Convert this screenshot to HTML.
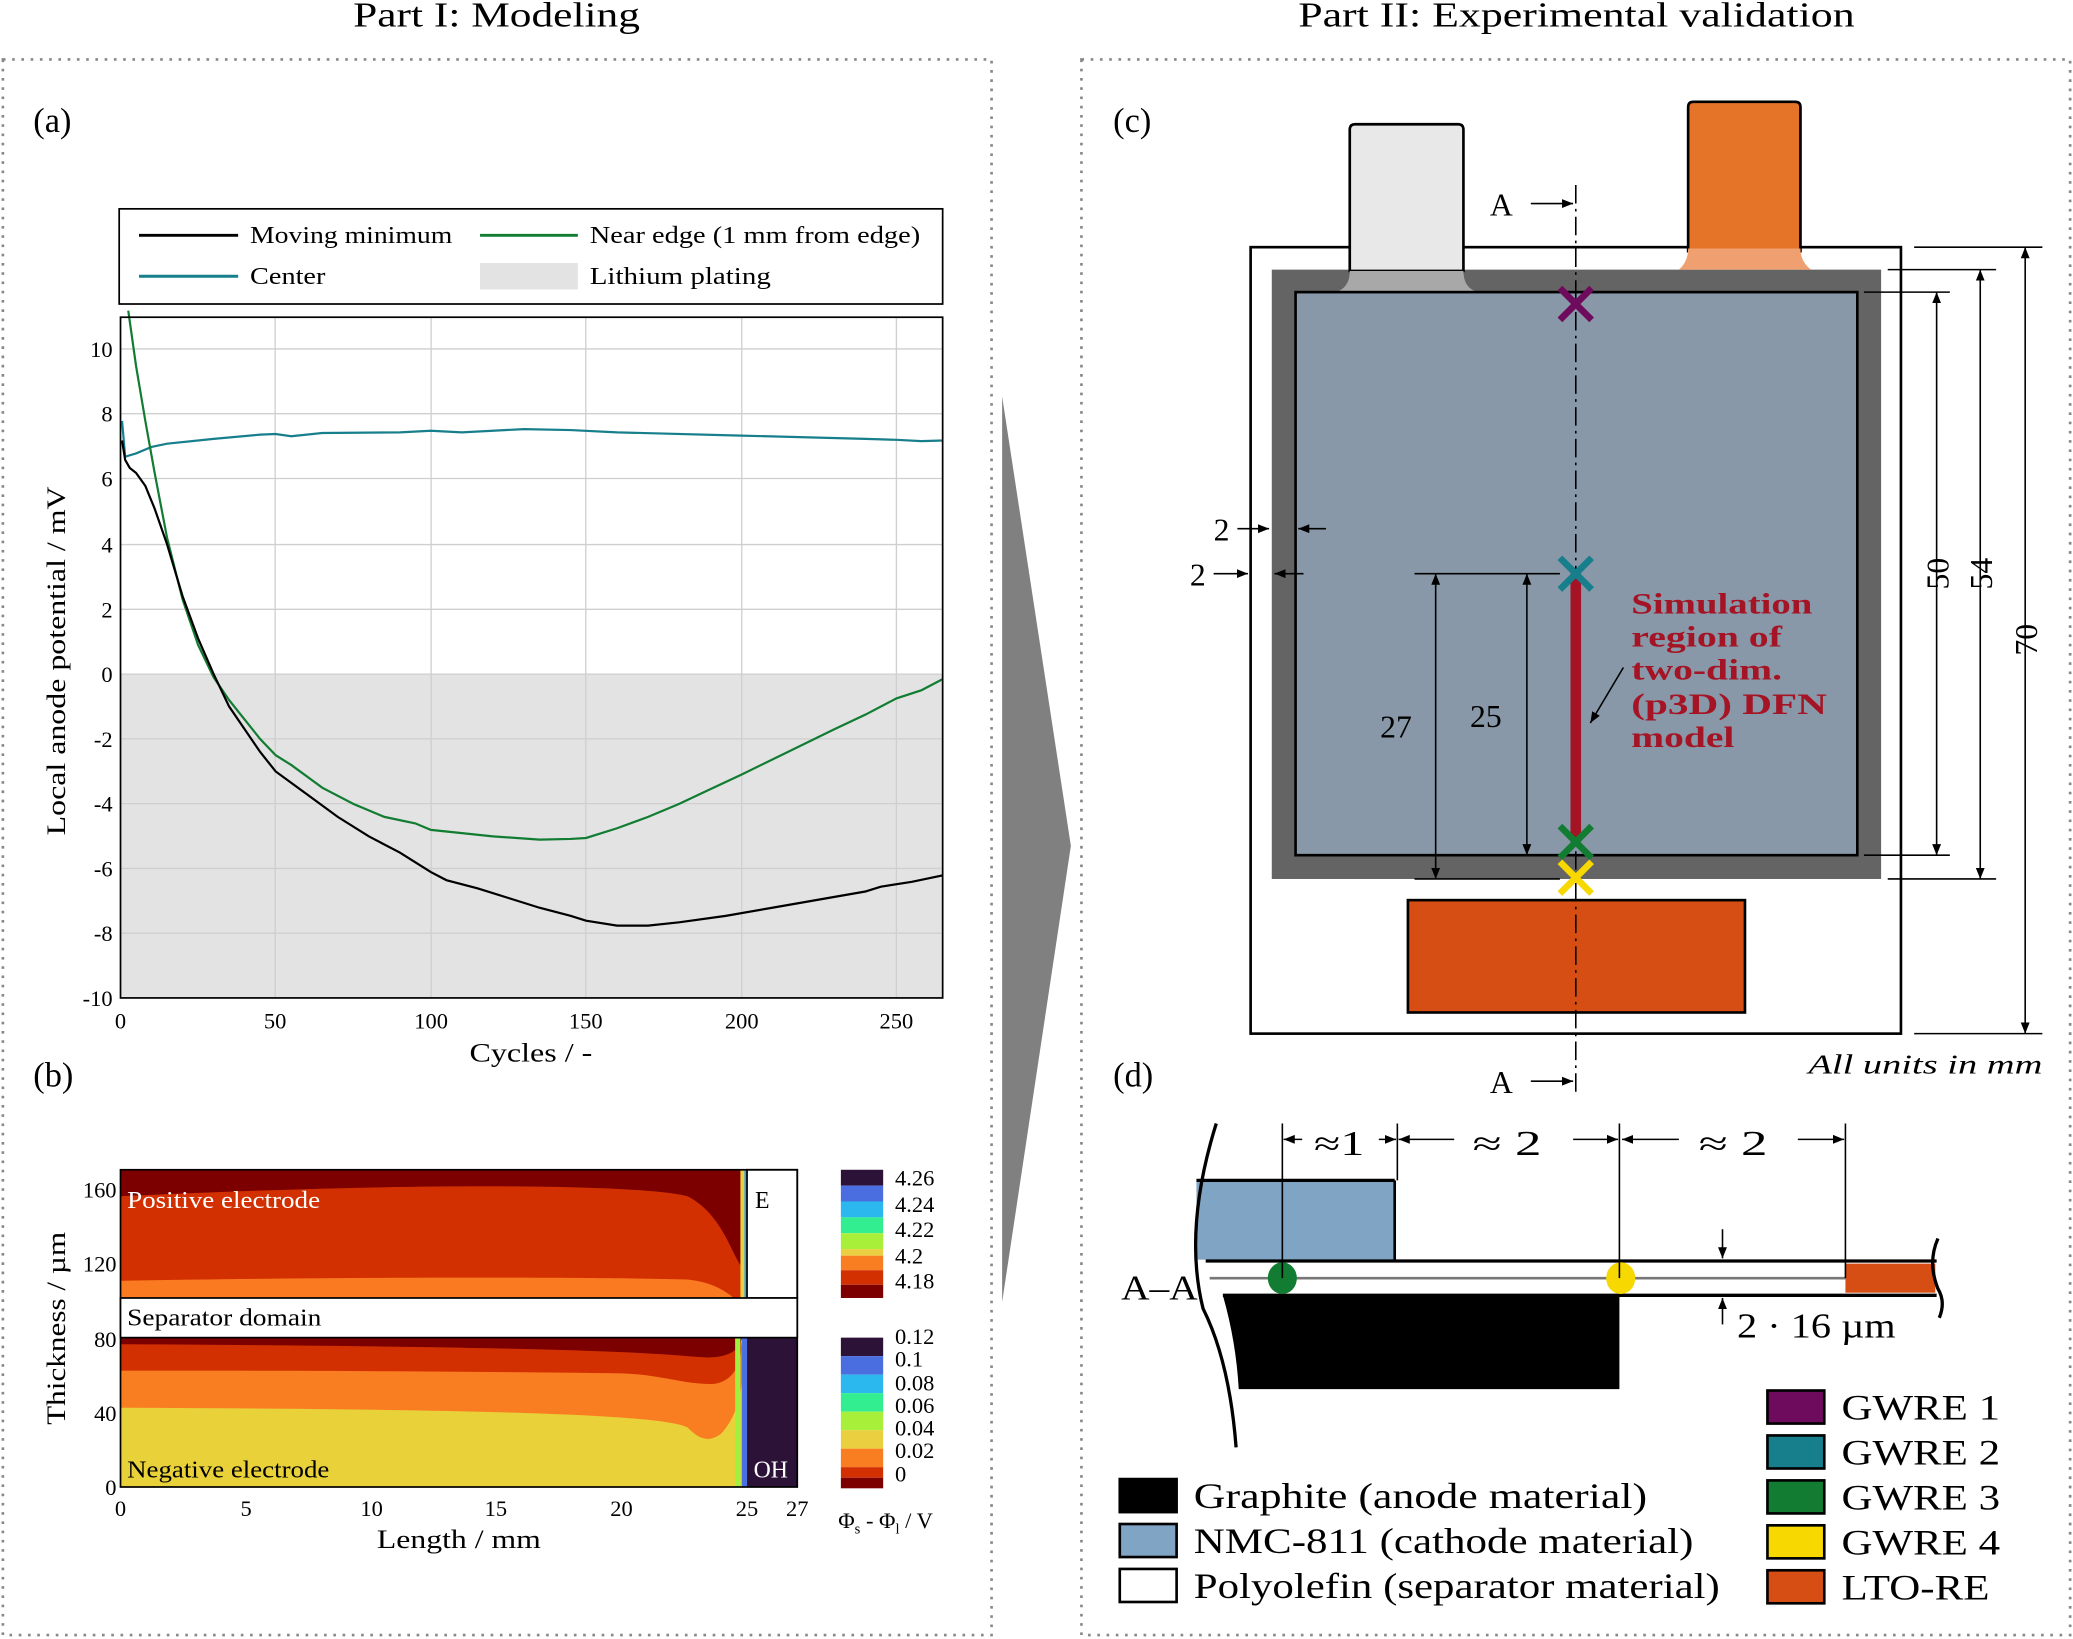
<!DOCTYPE html>
<html><head><meta charset="utf-8"><style>
html,body{margin:0;padding:0;background:#fff}
svg{display:block}
text{font-family:"Liberation Serif",serif;fill:#000}
</style></head><body>
<svg width="2073" height="1639" viewBox="0 0 1568 1240" xmlns="http://www.w3.org/2000/svg">
<defs>
<marker id="ar" viewBox="0 0 10 10" refX="10" refY="5" markerWidth="7" markerHeight="7" orient="auto-start-reverse"><path d="M0,1 L10,5 L0,9 z" fill="#000"/></marker>
</defs>
<text x="267" y="20" font-size="26" textLength="217" lengthAdjust="spacingAndGlyphs">Part I: Modeling</text>
<text x="982" y="20" font-size="26" textLength="421" lengthAdjust="spacingAndGlyphs">Part II: Experimental validation</text>
<rect x="2" y="45" width="748" height="1192" fill="none" stroke="#888" stroke-width="2" stroke-dasharray="2,5"/>
<rect x="818" y="45" width="748" height="1192" fill="none" stroke="#888" stroke-width="2" stroke-dasharray="2,5"/>
<polygon points="758,300 810,640 758,985" fill="#808080"/>

<text x="25" y="100" font-size="26">(a)</text>
<text x="25" y="822" font-size="26">(b)</text>
<text x="842" y="100" font-size="26">(c)</text>
<text x="842" y="822" font-size="26">(d)</text>

<!-- panel a -->
<rect x="91" y="510" width="622" height="245" fill="#e3e3e3"/>
<g stroke="#cfcfcf" stroke-width="1">
<line x1="208" y1="240" x2="208" y2="755"/><line x1="326" y1="240" x2="326" y2="755"/><line x1="443" y1="240" x2="443" y2="755"/><line x1="561" y1="240" x2="561" y2="755"/><line x1="678" y1="240" x2="678" y2="755"/>
<line x1="91" y1="264" x2="713" y2="264"/><line x1="91" y1="313" x2="713" y2="313"/><line x1="91" y1="362" x2="713" y2="362"/><line x1="91" y1="412" x2="713" y2="412"/><line x1="91" y1="461" x2="713" y2="461"/><line x1="91" y1="510" x2="713" y2="510"/><line x1="91" y1="559" x2="713" y2="559"/><line x1="91" y1="608" x2="713" y2="608"/><line x1="91" y1="657" x2="713" y2="657"/><line x1="91" y1="706" x2="713" y2="706"/>
</g>
<g transform="translate(91,510) scale(2.348,-24.55)" fill="none">
<polyline vector-effect="non-scaling-stroke" stroke="#177e8c" stroke-width="2.2" points="0.5,7.8 1.5,6.7 5,6.8 10,7 15,7.1 30,7.25 45,7.38 50,7.4 55,7.33 65,7.43 90,7.45 100,7.5 110,7.45 130,7.55 145,7.52 160,7.45 200,7.35 240,7.25 250,7.22 258,7.18 265,7.2"/>
<polyline vector-effect="non-scaling-stroke" stroke="#117c32" stroke-width="2.2" points="2.5,11.2 5,9.5 8,7.8 11,6.2 15,4.2 20,2.3 25,0.9 30,-0.1 35,-0.8 40,-1.4 45,-2 50,-2.5 55,-2.8 65,-3.5 75,-4 85,-4.4 95,-4.6 100,-4.8 110,-4.9 120,-5 135,-5.1 145,-5.08 150,-5.05 160,-4.75 170,-4.4 180,-4 190,-3.55 200,-3.1 215,-2.4 230,-1.7 240,-1.25 250,-0.75 258,-0.5 265,-0.15"/>
<polyline vector-effect="non-scaling-stroke" stroke="#000" stroke-width="2.2" points="0.5,7.2 1.5,6.6 3,6.35 5,6.2 8,5.8 11,5.1 15,4 20,2.4 25,1.1 30,0 35,-1 40,-1.7 45,-2.4 50,-3 60,-3.7 70,-4.4 80,-5 90,-5.5 95,-5.8 100,-6.1 105,-6.35 115,-6.6 125,-6.9 135,-7.2 145,-7.45 150,-7.6 160,-7.75 170,-7.75 180,-7.65 195,-7.45 210,-7.2 225,-6.95 240,-6.7 245,-6.55 255,-6.4 265,-6.2"/>
</g>
<rect x="91" y="240" width="622" height="515" fill="none" stroke="#000" stroke-width="1.3"/>
<g font-size="17" text-anchor="end">
<text x="85" y="270">10</text><text x="85" y="319">8</text><text x="85" y="368">6</text><text x="85" y="418">4</text><text x="85" y="467">2</text><text x="85" y="516">0</text><text x="85" y="565">-2</text><text x="85" y="614">-4</text><text x="85" y="663">-6</text><text x="85" y="712">-8</text><text x="85" y="761">-10</text>
</g>
<g font-size="17" text-anchor="middle">
<text x="91" y="778">0</text><text x="208" y="778">50</text><text x="326" y="778">100</text><text x="443" y="778">150</text><text x="561" y="778">200</text><text x="678" y="778">250</text>
</g>
<text x="355" y="803" font-size="20" textLength="93" lengthAdjust="spacingAndGlyphs">Cycles / -</text>
<text transform="translate(49,632) rotate(-90)" font-size="20" textLength="264" lengthAdjust="spacingAndGlyphs">Local anode potential / mV</text>
<rect x="90" y="158" width="623" height="72" fill="#fff" stroke="#000" stroke-width="1.3"/>
<line x1="105" y1="178" x2="180" y2="178" stroke="#000" stroke-width="2.2"/><text x="189" y="184" font-size="18" textLength="153" lengthAdjust="spacingAndGlyphs">Moving minimum</text>
<line x1="105" y1="209" x2="180" y2="209" stroke="#177e8c" stroke-width="2.2"/><text x="189" y="215" font-size="18" textLength="57" lengthAdjust="spacingAndGlyphs">Center</text>
<line x1="363" y1="178" x2="437" y2="178" stroke="#117c32" stroke-width="2.2"/><text x="446" y="184" font-size="18" textLength="250" lengthAdjust="spacingAndGlyphs">Near edge (1 mm from edge)</text>
<rect x="363" y="199" width="74" height="20" fill="#e3e3e3"/><text x="446" y="215" font-size="18" textLength="137" lengthAdjust="spacingAndGlyphs">Lithium plating</text>

<!-- panel b -->
<rect x="91" y="885" width="474" height="97" fill="#d23000"/>
<path d="M91,885 L560,885 L560,957 C552,945 545,918 520,905 C480,895 300,895 91,905 Z" fill="#7c0000"/>
<path d="M91,969 C250,966 450,966 520,968 C540,970 550,978 555,982 L91,982 Z" fill="#f97a20"/>
<rect x="560" y="885" width="5" height="97" fill="#e9d040"/>
<rect x="563" y="885" width="2" height="97" fill="#3aa0e0"/>
<rect x="565" y="885" width="38" height="97" fill="#fff" stroke="#000" stroke-width="1.3"/>
<rect x="91" y="1012" width="474" height="113" fill="#e9d13a"/>
<path d="M91,1012 L560,1012 C565,1040 560,1070 545,1085 C535,1092 528,1088 520,1080 C500,1068 300,1066 91,1065 Z" fill="#f97e22"/>
<path d="M91,1012 L560,1012 C563,1030 555,1045 540,1047 C520,1048 500,1040 470,1039 C300,1037 200,1037 91,1037 Z" fill="#d23000"/>
<path d="M91,1012 L561,1012 C560,1022 550,1027 535,1027 C500,1025 480,1019 91,1017 Z" fill="#7c0000"/>
<rect x="556" y="1012" width="4" height="113" fill="#a0f040"/>
<rect x="561" y="1012" width="4" height="113" fill="#4a70e0"/>
<rect x="565" y="1012" width="38" height="113" fill="#2d1238"/>
<rect x="91" y="885" width="512" height="240" fill="none" stroke="#000" stroke-width="1.3"/>
<rect x="91" y="982" width="512" height="30" fill="#fff" stroke="#000" stroke-width="1.3"/>
<text x="96" y="914" font-size="18" style="fill:#fff" textLength="146" lengthAdjust="spacingAndGlyphs">Positive electrode</text>
<text x="96" y="1003" font-size="18" textLength="147" lengthAdjust="spacingAndGlyphs">Separator domain</text>
<text x="96" y="1118" font-size="18" textLength="153" lengthAdjust="spacingAndGlyphs">Negative electrode</text>
<text x="571" y="914" font-size="18">E</text>
<text x="570" y="1118" font-size="18" style="fill:#fff">OH</text>
<g font-size="17" text-anchor="end">
<text x="88" y="906">160</text><text x="88" y="962">120</text><text x="88" y="1019">80</text><text x="88" y="1075">40</text><text x="88" y="1131">0</text>
</g>
<g font-size="17" text-anchor="middle">
<text x="91" y="1147">0</text><text x="186" y="1147">5</text><text x="281" y="1147">10</text><text x="375" y="1147">15</text><text x="470" y="1147">20</text><text x="565" y="1147">25</text><text x="603" y="1147">27</text>
</g>
<text x="285" y="1171" font-size="20" textLength="124" lengthAdjust="spacingAndGlyphs">Length / mm</text>
<text transform="translate(49,1078) rotate(-90)" font-size="20" textLength="146" lengthAdjust="spacingAndGlyphs">Thickness / µm</text>
<rect x="636" y="885" width="32" height="12" fill="#2d1238"/><rect x="636" y="897" width="32" height="12" fill="#4a6de0"/><rect x="636" y="909" width="32" height="12" fill="#2bb8ee"/><rect x="636" y="921" width="32" height="12" fill="#33ee90"/><rect x="636" y="933" width="32" height="12" fill="#a8ef3a"/><rect x="636" y="945" width="32" height="5" fill="#ead040"/>
<rect x="636" y="950" width="32" height="11" fill="#f97e22"/><rect x="636" y="961" width="32" height="11" fill="#d23000"/><rect x="636" y="972" width="32" height="10" fill="#7c0000"/>
<rect x="636" y="1012" width="32" height="14" fill="#2d1238"/><rect x="636" y="1026" width="32" height="14" fill="#4a6de0"/><rect x="636" y="1040" width="32" height="14" fill="#2bb8ee"/><rect x="636" y="1054" width="32" height="14" fill="#33ee90"/><rect x="636" y="1068" width="32" height="14" fill="#a8ef3a"/><rect x="636" y="1082" width="32" height="14" fill="#ead040"/><rect x="636" y="1096" width="32" height="14" fill="#f97e22"/><rect x="636" y="1110" width="32" height="8" fill="#d23000"/><rect x="636" y="1118" width="32" height="8" fill="#7c0000"/>
<g font-size="17">
<text x="677" y="897">4.26</text><text x="677" y="917">4.24</text><text x="677" y="936">4.22</text><text x="677" y="956">4.2</text><text x="677" y="975">4.18</text>
<text x="677" y="1017">0.12</text><text x="677" y="1034">0.1</text><text x="677" y="1052">0.08</text><text x="677" y="1069">0.06</text><text x="677" y="1086">0.04</text><text x="677" y="1103">0.02</text><text x="677" y="1121">0</text>
</g>
<text x="634" y="1156" font-size="17">Φ<tspan font-size="11" dy="4">s</tspan><tspan dy="-4"> - Φ</tspan><tspan font-size="11" dy="4">l</tspan><tspan dy="-4"> / V</tspan></text>

<!-- panel c -->
<rect x="946" y="187" width="492" height="595" fill="#fff" stroke="#000" stroke-width="2"/>
<rect x="962" y="204" width="461" height="461" fill="#646464"/>
<path d="M1021,205 L1021,98 Q1021,94 1025,94 L1103,94 Q1107,94 1107,98 L1107,205 Z" fill="#e8e8e8" stroke="#000" stroke-width="2"/>
<path d="M1021,205 Q1021,218 1010,221 L1118,221 Q1107,218 1107,205 Z" fill="#a8a8a8"/>
<path d="M1277,190 L1277,81 Q1277,77 1281,77 L1358,77 Q1362,77 1362,81 L1362,190 Z" fill="#e57428" stroke="#000" stroke-width="2"/>
<path d="M1277,188 Q1277,198 1270,204 L1370,204 Q1362,198 1362,188 Z" fill="#f0a070"/>
<rect x="980" y="221" width="425" height="426" fill="#8898a8" stroke="#000" stroke-width="2"/>
<rect x="1065" y="681" width="255" height="85" fill="#d64e14" stroke="#000" stroke-width="2"/>
<line x1="1192" y1="140" x2="1192" y2="830" stroke="#000" stroke-width="1.2" stroke-dasharray="14,4,2,4"/>
<line x1="1192" y1="434" x2="1192" y2="637" stroke="#a41424" stroke-width="8"/>
<g stroke-width="5">
<path d="M1180,218 L1204,242 M1204,218 L1180,242" stroke="#6e0b5c"/>
<path d="M1180,422 L1204,446 M1204,422 L1180,446" stroke="#177e8c"/>
<path d="M1180,625 L1204,649 M1204,625 L1180,649" stroke="#117c32"/>
<path d="M1180,652 L1204,676 M1204,652 L1180,676" stroke="#f7d800"/>
</g>
<text x="1127" y="163" font-size="24">A</text><line x1="1158" y1="154" x2="1190" y2="154" stroke="#000" stroke-width="1.2" marker-end="url(#ar)"/>
<text x="1127" y="827" font-size="24">A</text><line x1="1158" y1="818" x2="1190" y2="818" stroke="#000" stroke-width="1.2" marker-end="url(#ar)"/>
<g font-size="22" font-weight="bold">
<text x="1234" y="464" style="fill:#a41424" textLength="137" lengthAdjust="spacingAndGlyphs">Simulation</text>
<text x="1234" y="489" style="fill:#a41424" textLength="114" lengthAdjust="spacingAndGlyphs">region of</text>
<text x="1234" y="514" style="fill:#a41424" textLength="114" lengthAdjust="spacingAndGlyphs">two-dim.</text>
<text x="1234" y="540" style="fill:#a41424" textLength="148" lengthAdjust="spacingAndGlyphs">(p3D) DFN</text>
<text x="1234" y="565" style="fill:#a41424" textLength="78" lengthAdjust="spacingAndGlyphs">model</text>
</g>
<line x1="1228" y1="505" x2="1203" y2="547" stroke="#000" stroke-width="1.2" marker-end="url(#ar)"/>
<g stroke="#000" stroke-width="1.2" fill="none">
<line x1="1070" y1="434" x2="1180" y2="434"/>
<line x1="1086" y1="434" x2="1086" y2="665" marker-start="url(#ar)" marker-end="url(#ar)"/>
<line x1="1155" y1="434" x2="1155" y2="647" marker-start="url(#ar)" marker-end="url(#ar)"/>
<line x1="1070" y1="665" x2="1180" y2="665"/>
<line x1="1410" y1="221" x2="1475" y2="221"/><line x1="1410" y1="647" x2="1475" y2="647"/>
<line x1="1428" y1="204" x2="1510" y2="204"/><line x1="1428" y1="665" x2="1510" y2="665"/>
<line x1="1448" y1="187" x2="1545" y2="187"/><line x1="1448" y1="782" x2="1545" y2="782"/>
<line x1="1465" y1="221" x2="1465" y2="647" marker-start="url(#ar)" marker-end="url(#ar)"/>
<line x1="1498" y1="204" x2="1498" y2="665" marker-start="url(#ar)" marker-end="url(#ar)"/>
<line x1="1532" y1="187" x2="1532" y2="782" marker-start="url(#ar)" marker-end="url(#ar)"/>
<line x1="936" y1="400" x2="960" y2="400" marker-end="url(#ar)"/><line x1="1003" y1="400" x2="982" y2="400" marker-end="url(#ar)"/>
<line x1="918" y1="434" x2="944" y2="434" marker-end="url(#ar)"/><line x1="986" y1="434" x2="964" y2="434" marker-end="url(#ar)"/>
</g>
<text x="918" y="409" font-size="24">2</text><text x="900" y="443" font-size="24">2</text>
<text x="1044" y="558" font-size="24">27</text><text x="1112" y="550" font-size="24">25</text>
<text transform="translate(1474,434) rotate(-90)" font-size="24" text-anchor="middle">50</text>
<text transform="translate(1507,434) rotate(-90)" font-size="24" text-anchor="middle">54</text>
<text transform="translate(1541,484) rotate(-90)" font-size="24" text-anchor="middle">70</text>
<text x="1368" y="812" font-size="21" font-style="italic" textLength="177" lengthAdjust="spacingAndGlyphs">All units in mm</text>

<!-- panel d -->
<rect x="905" y="893" width="150" height="60" fill="#80a4c4"/>
<line x1="905" y1="893" x2="1055" y2="893" stroke="#000" stroke-width="2.5"/>
<line x1="1055" y1="893" x2="1055" y2="953" stroke="#000" stroke-width="2"/>
<line x1="912" y1="954" x2="1465" y2="954" stroke="#000" stroke-width="2.5"/>
<line x1="915" y1="967" x2="1396" y2="967" stroke="#777" stroke-width="2"/>
<rect x="1396" y="956" width="68" height="22" fill="#d64e14"/>
<line x1="925" y1="980" x2="1465" y2="980" stroke="#000" stroke-width="2.5"/>
<path d="M925,980 L1225,980 L1225,1051 L937,1051 Q935,1015 925,980 Z" fill="#000"/>
<path d="M920,850 Q895,930 910,990 Q930,1030 935,1095" fill="none" stroke="#000" stroke-width="2.5"/>
<path d="M1466,937 Q1458,955 1466,975 Q1472,985 1467,997" fill="none" stroke="#000" stroke-width="2.5"/>
<ellipse cx="970" cy="967" rx="11" ry="12" fill="#117c32"/>
<ellipse cx="1226" cy="967" rx="11" ry="12" fill="#f7d800"/>
<g stroke="#000" stroke-width="1.2" fill="none">
<line x1="970" y1="850" x2="970" y2="967"/><line x1="1057" y1="850" x2="1057" y2="893"/><line x1="1225" y1="850" x2="1225" y2="967"/><line x1="1396" y1="850" x2="1396" y2="967"/>
<line x1="985" y1="862" x2="971" y2="862" marker-end="url(#ar)"/><line x1="1043" y1="862" x2="1056" y2="862" marker-end="url(#ar)"/>
<line x1="1100" y1="862" x2="1058" y2="862" marker-end="url(#ar)"/><line x1="1190" y1="862" x2="1224" y2="862" marker-end="url(#ar)"/>
<line x1="1270" y1="862" x2="1227" y2="862" marker-end="url(#ar)"/><line x1="1360" y1="862" x2="1395" y2="862" marker-end="url(#ar)"/>
<line x1="1303" y1="930" x2="1303" y2="952" marker-end="url(#ar)"/><line x1="1303" y1="1002" x2="1303" y2="982" marker-end="url(#ar)"/>
</g>
<text x="994" y="874" font-size="26" textLength="38" lengthAdjust="spacingAndGlyphs">≈1</text><text x="1114" y="874" font-size="26" textLength="52" lengthAdjust="spacingAndGlyphs">≈ 2</text><text x="1285" y="874" font-size="26" textLength="52" lengthAdjust="spacingAndGlyphs">≈ 2</text>
<text x="848" y="983" font-size="26" textLength="58" lengthAdjust="spacingAndGlyphs">A–A</text>
<text x="1314" y="1012" font-size="26" textLength="120" lengthAdjust="spacingAndGlyphs">2 · 16 µm</text>
<g font-size="27">
<rect x="847" y="1119" width="43" height="25" fill="#000" stroke="#000" stroke-width="2"/><text x="903" y="1141" textLength="343" lengthAdjust="spacingAndGlyphs">Graphite (anode material)</text>
<rect x="847" y="1153" width="43" height="25" fill="#80a4c4" stroke="#000" stroke-width="2"/><text x="903" y="1175" textLength="378" lengthAdjust="spacingAndGlyphs">NMC-811 (cathode material)</text>
<rect x="847" y="1187" width="43" height="25" fill="#fff" stroke="#000" stroke-width="2"/><text x="903" y="1209" textLength="398" lengthAdjust="spacingAndGlyphs">Polyolefin (separator material)</text>
<rect x="1337" y="1052" width="43" height="25" fill="#6e0b5c" stroke="#000" stroke-width="2"/><text x="1393" y="1074" textLength="120" lengthAdjust="spacingAndGlyphs">GWRE 1</text>
<rect x="1337" y="1086" width="43" height="25" fill="#177e8c" stroke="#000" stroke-width="2"/><text x="1393" y="1108" textLength="120" lengthAdjust="spacingAndGlyphs">GWRE 2</text>
<rect x="1337" y="1120" width="43" height="25" fill="#117c32" stroke="#000" stroke-width="2"/><text x="1393" y="1142" textLength="120" lengthAdjust="spacingAndGlyphs">GWRE 3</text>
<rect x="1337" y="1154" width="43" height="25" fill="#f7d800" stroke="#000" stroke-width="2"/><text x="1393" y="1176" textLength="120" lengthAdjust="spacingAndGlyphs">GWRE 4</text>
<rect x="1337" y="1188" width="43" height="25" fill="#d64e14" stroke="#000" stroke-width="2"/><text x="1393" y="1210" textLength="112" lengthAdjust="spacingAndGlyphs">LTO-RE</text>
</g>
</svg>
</body></html>
